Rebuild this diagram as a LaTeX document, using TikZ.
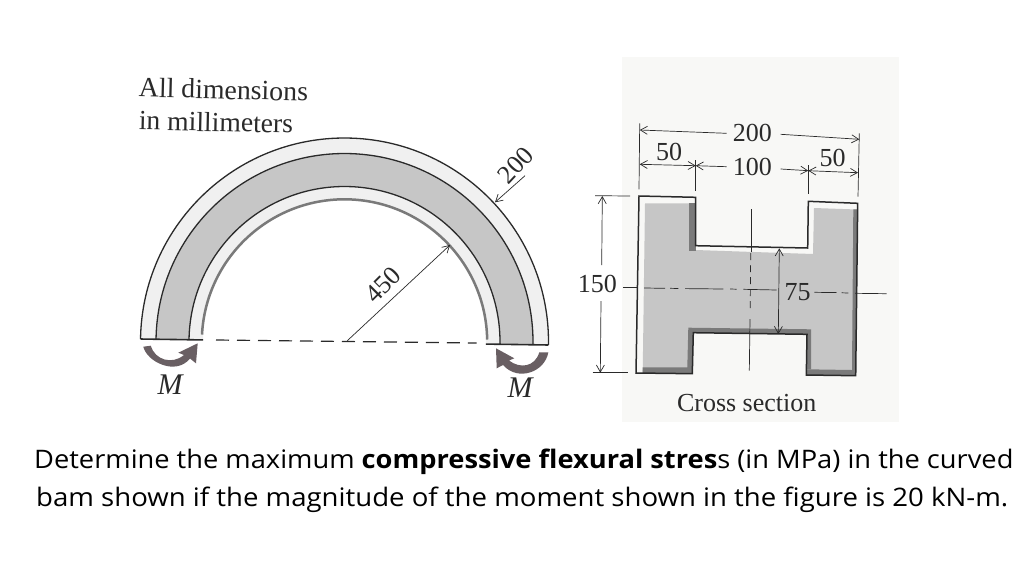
\documentclass[tikz,border=0pt]{standalone}
\usepackage{fontspec}
\setmainfont{Liberation Serif}
\newfontfamily\capfont[FakeStretch=1.069]{Open Sans}
\newfontfamily\capfontb[FakeStretch=1.081]{Open Sans}
\usetikzlibrary{arrows.meta,calc}
\definecolor{ink}{HTML}{2A2A2A}
\definecolor{paper}{HTML}{F8F8F6}
\definecolor{midgray}{HTML}{C6C6C6}
\definecolor{paleband}{HTML}{F0F0F0}
\definecolor{darkgray}{HTML}{7A7A7A}
\definecolor{moment}{HTML}{695F63}
\tikzset{
  dimline/.style={draw=ink,line width=0.7pt},
  dimarrow/.style={dimline,{Straight Barb[length=7pt,width=8pt]}-{Straight Barb[length=7pt,width=8pt]}},
  endarrow/.style={dimline,-{Straight Barb[length=7pt,width=8pt]}},
  startarrow/.style={dimline,{Straight Barb[length=7pt,width=8pt]}-},
  serif/.style={font=\fontsize{26}{28}\selectfont,text=ink,inner sep=0pt},
  ital/.style={font=\fontsize{30}{32}\selectfont\itshape,text=ink,inner sep=0pt},
  caption/.style={font=\fontsize{25.5}{30}\selectfont,text=black,inner sep=0pt,anchor=base west},
  outline/.style={draw=ink,line width=1.3pt},
  sectionline/.style={draw=ink,line width=1.5pt,line join=miter},
  momentarrow/.style={fill=moment,draw=none},
}
\newcommand{\archband}[3]{%
  \fill[#3] (c) ++(179.16:#1pt) arc[start angle=179.16,end angle=-0.84,radius=#1pt]
    -- ($(c)+(-0.84:#2pt)$) arc[start angle=-0.84,end angle=179.16,radius=#2pt] -- cycle;}
\newcommand{\archline}[1]{%
  \draw[outline] (c) ++(179.16:#1pt) arc[start angle=179.16,end angle=-0.84,radius=#1pt];}
\begin{document}
\begin{tikzpicture}[x=1pt,y=-1pt]
\useasboundingbox (0,0) rectangle (1024,576);
\fill[white] (0,0) rectangle (1024,576);
\fill[paper] (622,57) rectangle (899,422);
% ---- curved beam
\coordinate (c) at (344.5,342);
\archband{204}{141.5}{paleband}
\archband{188.5}{155.5}{midgray}
\draw[darkgray,line width=2.5pt] (c) ++(177:142.7pt) arc[start angle=177,end angle=1,radius=142.7pt];
\archline{204}
\archline{188.5}
\archline{155.5}
\coordinate (al) at ($(c)+(179.16:204pt)$);
\coordinate (ar) at ($(c)+(179.16:141.5pt)$);
\coordinate (bl) at ($(c)+(-0.84:141.5pt)$);
\coordinate (br) at ($(c)+(-0.84:204pt)$);
\draw[outline,line width=1.6pt] (al) -- (ar);
\draw[outline,line width=1.6pt] (bl) -- (br);
\coordinate (d1) at (216,340);
\coordinate (d2) at (476.7,343);
\draw[ink,line width=1.2pt,dash pattern=on 13pt off 8pt] (d1) -- (d2);
% leaders
\coordinate (r1) at (347.3,340.7);
\coordinate (r2) at (450,245);
\draw[endarrow] (r1) -- (r2);
\coordinate (t1) at (525,175.7);
\coordinate (t2) at (495,202.3);
\draw[endarrow] (t1) -- (t2);
\node[serif,rotate=45] (n450) at (383,285) {450};
\node[serif,rotate=47] (n200) at (515.5,165) {200};
% moment arrows
\path[momentarrow] (143.3,346.7) .. controls (147,362) and (176,376) .. (190,358.5) -- (196,363.3) -- (197.7,343.3) -- (178.3,352.7) -- (184,355) .. controls (172,365) and (155,360) .. (150.7,345.7) -- cycle;
\path[momentarrow] (548.3,352.3) .. controls (545,372) and (518,382) .. (503,365) -- (496.7,368.3) -- (496,348.3) -- (514.3,358.3) -- (509,360.5) .. controls (520,369) and (535,367) .. (539.3,352.3) -- cycle;
\node[ital] (ml) at (170,385) {M};
\node[ital] (mr) at (520,388) {M};
% heading
\node[serif,font=\fontsize{27.8}{30}\selectfont,rotate=-1.4] (h1) at (223.5,89.5) {All dimensions};
\node[serif,font=\fontsize{27.6}{30}\selectfont,rotate=-1.2] (h2) at (216,122) {in millimeters};
% ---- cross section
\fill[midgray] (645,203.3) -- (695.7,203.3) -- (695.7,250) -- (783,253) -- (813,254) -- (814,208) -- (857,209.5) -- (855.7,375.7) -- (806.3,375) -- (807,334.3) -- (693.3,332.7) -- (692.3,373.7) -- (642.7,373) -- cycle;
\fill[darkgray] (689.3,203.3) -- (696,203.3) -- (696,250.7) -- (689.3,250.7) -- cycle;
\fill[darkgray] (853.3,209.3) -- (857.5,209.3) -- (855.7,375.7) -- (806.7,375) -- (806.7,369.3) -- (852,370) -- cycle;
\fill[darkgray] (688.3,327.7) -- (811,329.3) -- (811,369.3) -- (806.5,369.3) -- (807,334.3) -- (693.3,332.7) -- (692.3,373.7) -- (642.7,373) -- (642.7,367.3) -- (687.3,367.3) -- cycle;
\draw[sectionline] (639,196) -- (695.7,197.3) -- (695.7,245.7) -- (807.7,248) -- (808.3,201.3) -- (857.7,203.3) -- (855.7,375.7) -- (806.3,375) -- (807,334.3) -- (693.3,332.7) -- (692.3,373.7) -- (636,373) -- cycle;
% extension lines
\coordinate (e1a) at (639.7,123.3); \coordinate (e1b) at (639,189.3);
\coordinate (e2a) at (859.3,133.3); \coordinate (e2b) at (858,196.7);
\coordinate (e3a) at (695.7,160);   \coordinate (e3b) at (695.7,191);
\coordinate (e4a) at (808.3,165);   \coordinate (e4b) at (808.3,194.3);
\coordinate (e5a) at (595,195.7);   \coordinate (e5b) at (630,196);
\coordinate (e6a) at (592.7,372.7); \coordinate (e6b) at (628.3,372.7);
\foreach \p in {1,...,6} {\draw[dimline] (e\p a) -- (e\p b);}
% dimensions
\node[serif] (w200) at (752.3,133.3) {200};
\node[serif] (w100) at (752.3,166.7) {100};
\node[serif] (w50l) at (669,151.7) {50};
\node[serif] (w50r) at (832.7,157.7) {50};
\node[serif] (h150) at (597.3,284.3) {150};
\node[serif] (v75)  at (797.7,292.3) {75};
\node[serif] (cs)   at (746.7,403.3) {Cross section};
\coordinate (a1) at (639.7,130);   \coordinate (a2) at (726.7,133.3);
\coordinate (a3) at (780.7,134.3); \coordinate (a4) at (859.3,139.3);
\draw[startarrow] (a1) -- (a2);
\draw[endarrow] (a3) -- (a4);
\coordinate (b1) at (639.7,164.3); \coordinate (b2) at (695.7,165.7);
\coordinate (b3) at (726.7,166.7); \coordinate (b4) at (780.7,169);
\coordinate (b5) at (808.3,170.7); \coordinate (b6) at (858,172.7);
\draw[dimarrow] (b1) -- (b2);
\draw[endarrow] (b3) -- (b2);
\draw[endarrow] (b4) -- (b5);
\draw[dimarrow] (b5) -- (b6);
\coordinate (f1) at (602.3,196);   \coordinate (f2) at (601.7,265);
\coordinate (f3) at (601,301);     \coordinate (f4) at (600.3,372.7);
\draw[startarrow] (f1) -- (f2);
\draw[endarrow] (f3) -- (f4);
\coordinate (g1) at (779.3,248.3); \coordinate (g2) at (778.3,334);
\draw[dimarrow] (g1) -- (g2);
% centre lines
\draw[dimline] (623.3,287.7) -- (637,287.7);
\draw[dimline] (644,288) -- (665,288.3);
\draw[dimline] (670,288.3) -- (678.3,288.5);
\draw[dimline] (685,288.6) -- (723.3,289);
\draw[dimline] (730,289) -- (736.7,289.2);
\draw[dimline] (743.3,289.3) -- (776.7,290);
\draw[dimline] (814.3,292.3) -- (836.7,292.6);
\draw[dimline] (841.7,292.8) -- (848.3,293);
\draw[dimline] (855,293.3) -- (886.7,293.7);
\draw[dimline] (751,209) -- (751,251.7);
\draw[dimline,dash pattern=on 7pt off 5pt] (750.7,253) -- (750.2,310);
\draw[dimline] (750,319) -- (749.3,370.7);
% ---- caption
\node[caption] (c1) at (34,468) {\capfont Determine the maximum {\bfseries compressive flexural stres}s (in MPa) in the curved};
\node[caption] (c2) at (36,506) {\capfontb bam shown if the magnitude of the moment shown in the figure is 20 kN-m.};
\end{tikzpicture}
\end{document}
